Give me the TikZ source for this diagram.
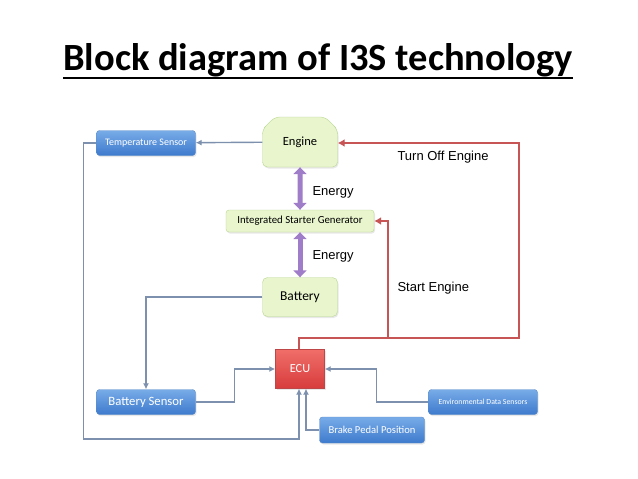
\documentclass[tikz,border=0pt]{standalone}
\usepackage{fontspec}
\setmainfont{Carlito}
\newfontfamily\labelfont{Liberation Sans}
\usetikzlibrary{arrows.meta,shapes.misc,shadows}
\definecolor{sensortop}{RGB}{120,172,232}
\definecolor{sensorbot}{RGB}{62,122,205}
\definecolor{sensorline}{RGB}{95,140,200}
\definecolor{unitfill}{RGB}{232,245,205}
\definecolor{unitline}{RGB}{185,215,145}
\definecolor{ecutop}{RGB}{240,110,105}
\definecolor{ecubot}{RGB}{215,60,60}
\definecolor{eculine}{RGB}{190,70,70}
\definecolor{signal}{RGB}{125,145,175}
\definecolor{control}{RGB}{200,85,85}
\definecolor{energy}{RGB}{160,125,200}

\begin{document}
\begin{tikzpicture}[x=1pt, y=1pt]
        % Define styles
        \tikzset{
            boxshadow/.style={drop shadow={opacity=0.18, shadow xshift=1pt, shadow yshift=-1.5pt}},
            sensor/.style={rectangle, rounded corners=3pt, draw=sensorline, top color=sensortop, bottom color=sensorbot, text=white, minimum width=99pt, minimum height=25pt, inner sep=2pt, boxshadow},
            unit/.style={rectangle, rounded corners=5pt, draw=unitline, fill=unitfill, text=black, minimum width=75pt, inner sep=2pt, boxshadow},
            ecu/.style={rectangle, draw=eculine, top color=ecutop, bottom color=ecubot, text=white, minimum width=49pt, minimum height=39pt, boxshadow},
            energy label/.style={font=\labelfont\fontsize{13}{15}\selectfont, anchor=west},
            signal/.style={draw=signal, line width=1.4pt, -{Latex[length=6pt,width=6pt]}},
            control/.style={draw=control, line width=2pt, -{Latex[length=7pt,width=8pt]}},
            power/.style={draw=energy, line width=5pt, {Triangle[length=7pt,width=13pt]}-{Triangle[length=7pt,width=13pt]}}
        }
        \fill[white] (0,0) rectangle (638,-479);
        \useasboundingbox (0,0) rectangle (638,-479);

        % Title
        \node [inner sep=0pt, anchor=base, font=\bfseries\fontsize{38.5}{42}\selectfont] (title) at (318,-70) {Block diagram of I3S technology};
        \draw [line width=2.5pt] ([yshift=-8pt]title.base west) -- ([yshift=-8pt]title.base east);

        % Create nodes
        \node [unit, chamfered rectangle, chamfered rectangle corners={north west,north east}, chamfered rectangle xsep=7pt, chamfered rectangle ysep=7pt, inner sep=0pt, minimum width=75pt, minimum height=50pt, font=\fontsize{12.5}{14}\selectfont] (engine) at (300,-142) {Engine};
        \node [unit, minimum width=148pt, minimum height=22pt, rounded corners=3pt, font=\fontsize{10.8}{12}\selectfont, below of=engine, node distance=79pt] (isg) {Integrated Starter Generator};
        \node [unit, minimum height=39pt, font=\fontsize{13.5}{15}\selectfont, below of=isg, node distance=76pt] (battery) {Battery};
        \node [ecu, font=\fontsize{12.3}{14}\selectfont] (ecu) at (300,-369) {ECU};
        \node [sensor, font=\fontsize{10}{12}\selectfont] (tempsensor) at (146,-143) {Temperature Sensor};
        \node [sensor, font=\fontsize{12.7}{14}\selectfont] (battsensor) at (146,-402) {Battery Sensor};
        \node [sensor, minimum width=105pt, minimum height=26pt, font=\fontsize{10.6}{12}\selectfont] (brake) at (372,-430) {Brake Pedal Position};
        \node [sensor, minimum width=109pt, font=\fontsize{7.8}{9}\selectfont] (envsensors) at (483,-402) {Environmental Data Sensors};

        % Create arrows
        \draw [power] (engine) -- (isg);
        \draw [power] (isg) -- (battery);
        \draw [signal] (engine) -- (tempsensor);
        \draw [signal] (tempsensor.west) -- ++(-13,0) |- (299,-439) -- ([xshift=-1pt]ecu.south);
        \draw [signal] (battery.west) -| (battsensor.north);
        \draw [signal] (battsensor.east) -- ++(39,0) |- (ecu.west);
        \draw [signal] (brake.west) -| ([xshift=6pt]ecu.south);
        \draw [signal] (envsensors.west) -- ++(-52,0) |- (ecu.east);
        \draw [control] ([xshift=-1pt]ecu.north) |- (519,-338) |- ([yshift=-1pt]engine.east);
        \draw [control] (388,-338) |- (isg.east);

        % Add labels
        \node [energy label] (energy1) at (309,-192) {Energy};
        \node [energy label] (energy2) at (309,-256) {Energy};
        \node [energy label] (turnoff) at (394,-157) {Turn Off Engine};
        \node [energy label] (start) at (394,-288) {Start Engine};
    \end{tikzpicture}
\end{document}
